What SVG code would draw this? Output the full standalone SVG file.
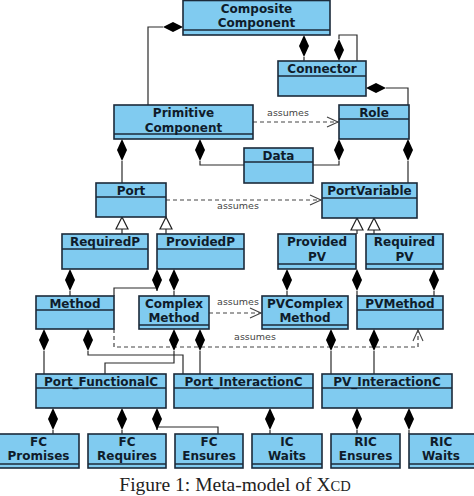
<svg xmlns="http://www.w3.org/2000/svg" width="474" height="496" viewBox="0 0 474 496">
<style>
.b rect{fill:#80CBF0;stroke:#1b2a3a;stroke-width:1.6}
.b line{stroke:#1b2a3a;stroke-width:1.6}
.b text{font-family:"DejaVu Sans",sans-serif;font-weight:bold;font-size:12px;fill:#0f1c2b;text-anchor:middle}
.c path{fill:none;stroke:#2a2a2a;stroke-width:1.2}
.c path.d{stroke-dasharray:4,3;stroke:#444}
.c .dm{fill:#000;stroke:none}
.c .tri{fill:#fff;stroke:#222;stroke-width:1.2}
.lbl{font-family:"DejaVu Sans",sans-serif;font-size:9.5px;fill:#444;text-anchor:middle}
.cap{font-family:"Liberation Serif",serif;font-size:19.5px;fill:#222;text-anchor:middle}
</style>
<defs>
<marker id="oa" markerWidth="14" markerHeight="12" refX="12" refY="6" orient="auto" markerUnits="userSpaceOnUse"><path d="M1,1 L12,6 L1,11" fill="none" stroke="#444" stroke-width="1.1"/></marker>
<path id="dv" d="M0,0 L5,11 L0,22 L-5,11 Z"/>
<path id="tr" d="M0,0 L6,12 L-6,12 Z"/>
</defs>

<g id="connectors" class="c">
<path d="M163,27 H148 V105"/>
<path d="M304,57 V61"/>
<path d="M339,39 V35 H357 V61"/>
<path d="M386,88 H408 V105"/>
<path class="d" d="M253,122 H338" marker-end="url(#oa)"/>
<path d="M122,161 V183"/>
<path d="M200,161 V165 H244"/>
<path d="M339,161 V165 H313"/>
<path d="M408,161 V183"/>
<path class="d" d="M166,200 H321" marker-end="url(#oa)"/>
<path d="M122,229 V234"/>
<path d="M166,229 V234"/>
<path d="M357,230 V234"/>
<path d="M374,230 V234"/>
<path d="M70,291 V296"/>
<path d="M157,291 V288 H114 V296"/>
<path d="M174,291 V296"/>
<path d="M287,291 V296"/>
<path d="M357,291 V296"/>
<path d="M434,291 V296"/>
<path class="d" d="M209,313 H261" marker-end="url(#oa)"/>
<path class="d" d="M114,329 V347 H418 V330" marker-end="url(#oa)"/>
<path d="M44,351 V374"/>
<path d="M88,351 V355 H183 V374"/>
<path d="M174,351 V363 H105 V374"/>
<path d="M200,351 V374"/>
<path d="M331,351 V374"/>
<path d="M374,351 V374"/>
<path d="M53,430 V434"/>
<path d="M122,430 V434"/>
<path d="M157,430 V427 H218 V434"/>
<path d="M270,430 V434"/>
<path d="M357,430 V434"/>
<path d="M409,430 V434"/>
<path class="dm" d="M183,27 L173,22 L163,27 L173,32 Z"/>
<path class="dm" d="M366,88 L376,83 L386,88 L376,93 Z"/>
<use href="#dv" class="dm" x="304" y="35"/>
<use href="#dv" class="dm" x="339" y="39"/>
<use href="#dv" class="dm" x="122" y="139"/>
<use href="#dv" class="dm" x="200" y="139"/>
<use href="#dv" class="dm" x="339" y="139"/>
<use href="#dv" class="dm" x="408" y="139"/>
<use href="#dv" class="dm" x="70" y="269"/>
<use href="#dv" class="dm" x="157" y="269"/>
<use href="#dv" class="dm" x="174" y="269"/>
<use href="#dv" class="dm" x="287" y="269"/>
<use href="#dv" class="dm" x="357" y="269"/>
<use href="#dv" class="dm" x="434" y="269"/>
<use href="#dv" class="dm" x="44" y="329"/>
<use href="#dv" class="dm" x="88" y="329"/>
<use href="#dv" class="dm" x="174" y="329"/>
<use href="#dv" class="dm" x="200" y="329"/>
<use href="#dv" class="dm" x="331" y="329"/>
<use href="#dv" class="dm" x="374" y="329"/>
<use href="#dv" class="dm" x="53" y="408"/>
<use href="#dv" class="dm" x="122" y="408"/>
<use href="#dv" class="dm" x="157" y="408"/>
<use href="#dv" class="dm" x="270" y="408"/>
<use href="#dv" class="dm" x="357" y="408"/>
<use href="#dv" class="dm" x="409" y="408"/>
<use href="#tr" class="tri" x="122" y="217"/>
<use href="#tr" class="tri" x="166" y="217"/>
<use href="#tr" class="tri" x="357" y="218"/>
<use href="#tr" class="tri" x="374" y="218"/>
<text class="lbl" x="288" y="116">assumes</text>
<text class="lbl" x="238" y="209">assumes</text>
<text class="lbl" x="238" y="305">assumes</text>
<text class="lbl" x="255" y="340">assumes</text>
</g>

<g id="composite-component" class="b"><rect x="183" y="0.5" width="147" height="34.5"/><line x1="183" y1="30" x2="330" y2="30"/><text x="256.5" y="13">Composite</text><text x="256.5" y="27">Component</text></g>
<g id="connector" class="b"><rect x="278" y="61" width="88" height="35"/><line x1="278" y1="76" x2="366" y2="76"/><text x="322" y="73">Connector</text></g>
<g id="primitive-component" class="b"><rect x="114" y="105" width="139" height="34"/><line x1="114" y1="134" x2="253" y2="134"/><text x="183.5" y="117">Primitive</text><text x="183.5" y="132">Component</text></g>
<g id="role" class="b"><rect x="339" y="105" width="70" height="34"/><line x1="339" y1="119" x2="409" y2="119"/><text x="374" y="117">Role</text></g>
<g id="data" class="b"><rect x="244" y="148" width="69" height="35"/><line x1="244" y1="162" x2="313" y2="162"/><text x="278.5" y="160">Data</text></g>
<g id="port" class="b"><rect x="96" y="183" width="70" height="34"/><line x1="96" y1="197" x2="166" y2="197"/><text x="131" y="195">Port</text></g>
<g id="port-variable" class="b"><rect x="322" y="183" width="95" height="35"/><line x1="322" y1="198" x2="417" y2="198"/><text x="369.5" y="195">PortVariable</text></g>
<g id="required-p" class="b"><rect x="62" y="234" width="86" height="35"/><line x1="62" y1="249" x2="148" y2="249"/><text x="105" y="246">RequiredP</text></g>
<g id="provided-p" class="b"><rect x="157" y="234" width="87" height="35"/><line x1="157" y1="249" x2="244" y2="249"/><text x="200.5" y="246">ProvidedP</text></g>
<g id="provided-pv" class="b"><rect x="278" y="234" width="78" height="35"/><line x1="278" y1="264" x2="356" y2="264"/><text x="317" y="246">Provided</text><text x="317" y="261">PV</text></g>
<g id="required-pv" class="b"><rect x="366" y="234" width="77" height="35"/><line x1="366" y1="264" x2="443" y2="264"/><text x="404.5" y="246">Required</text><text x="404.5" y="261">PV</text></g>
<g id="method" class="b"><rect x="36" y="296" width="78" height="33"/><line x1="36" y1="310" x2="114" y2="310"/><text x="75" y="308">Method</text></g>
<g id="complex-method" class="b"><rect x="139" y="296" width="70" height="33"/><line x1="139" y1="325" x2="209" y2="325"/><text x="174" y="308">Complex</text><text x="174" y="322">Method</text></g>
<g id="pv-complex-method" class="b"><rect x="262" y="296" width="86" height="33"/><line x1="262" y1="325" x2="348" y2="325"/><text x="305" y="308">PVComplex</text><text x="305" y="322">Method</text></g>
<g id="pv-method" class="b"><rect x="357" y="296" width="86" height="33"/><line x1="357" y1="310" x2="443" y2="310"/><text x="400" y="308">PVMethod</text></g>
<g id="port-functional-c" class="b"><rect x="36" y="374" width="130" height="34"/><line x1="36" y1="388" x2="166" y2="388"/><text x="101" y="386">Port_FunctionalC</text></g>
<g id="port-interaction-c" class="b"><rect x="174" y="374" width="139" height="34"/><line x1="174" y1="388" x2="313" y2="388"/><text x="243.5" y="386">Port_InteractionC</text></g>
<g id="pv-interaction-c" class="b"><rect x="322" y="374" width="130" height="34"/><line x1="322" y1="388" x2="452" y2="388"/><text x="387" y="386">PV_InteractionC</text></g>
<g id="fc-promises" class="b"><rect x="-2" y="434" width="81" height="34"/><line x1="-2" y1="464" x2="79" y2="464"/><text x="38.5" y="446">FC</text><text x="38.5" y="460">Promises</text></g>
<g id="fc-requires" class="b"><rect x="88" y="434" width="78" height="34"/><line x1="88" y1="464" x2="166" y2="464"/><text x="127" y="446">FC</text><text x="127" y="460">Requires</text></g>
<g id="fc-ensures" class="b"><rect x="175" y="434" width="68" height="34"/><line x1="175" y1="464" x2="243" y2="464"/><text x="209" y="446">FC</text><text x="209" y="460">Ensures</text></g>
<g id="ic-waits" class="b"><rect x="252" y="434" width="70" height="34"/><line x1="252" y1="464" x2="322" y2="464"/><text x="287" y="446">IC</text><text x="287" y="460">Waits</text></g>
<g id="ric-ensures" class="b"><rect x="331" y="434" width="69" height="34"/><line x1="331" y1="464" x2="400" y2="464"/><text x="365.5" y="446">RIC</text><text x="365.5" y="460">Ensures</text></g>
<g id="ric-waits" class="b"><rect x="409" y="434" width="66" height="34"/><line x1="409" y1="464" x2="475" y2="464"/><text x="441" y="446">RIC</text><text x="441" y="460">Waits</text></g>

<text class="cap" x="235" y="491">Figure 1: Meta-model of X<tspan font-size="14.5px">CD</tspan></text>
</svg>
